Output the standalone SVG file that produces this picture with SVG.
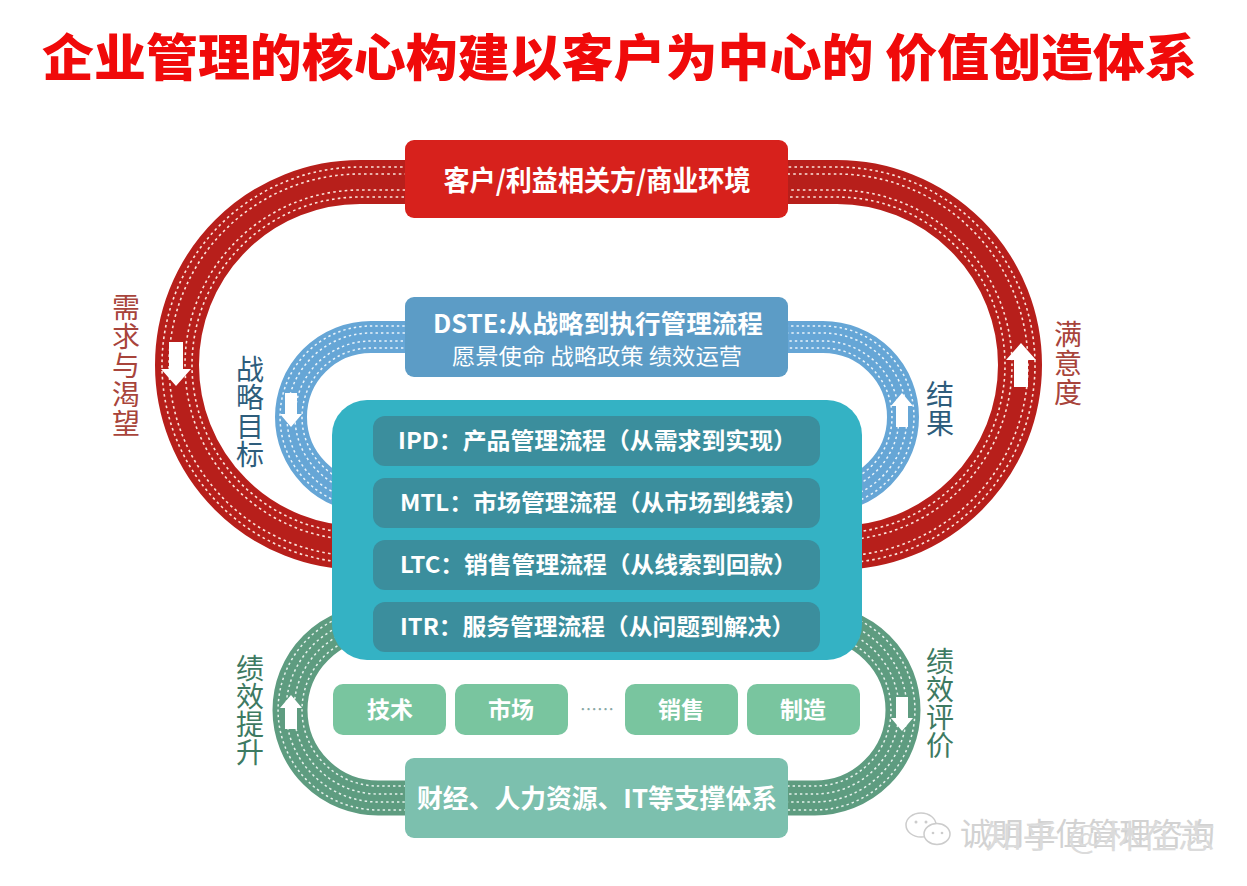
<svg xmlns="http://www.w3.org/2000/svg" xmlns:xlink="http://www.w3.org/1999/xlink" width="1247" height="886" viewBox="0 0 1247 886">
<style>
.cjk{font-family:"Noto Sans CJK SC","Noto Sans CJK TC",sans-serif}
.title{font-size:50px;font-weight:900;fill:#f00a0a}
.boxt{fill:#fff;font-weight:bold}
.lbl{font-size:28px;text-anchor:middle}
.dash{fill:none;stroke:#fbe3da;stroke-width:1.6;stroke-dasharray:2.6 3.2}
.dashb{fill:none;stroke:#eaf4fb;stroke-width:1.5;stroke-dasharray:2.4 3}
.dashg{fill:none;stroke:#e6f2ec;stroke-width:1.5;stroke-dasharray:2.4 3}
.arr{fill:#fff}
.row{fill:#3b8e9d}
.gbox{fill:#79c59f}
</style>
<defs>
<path id="arrR" d="M -7 0 H 7 V 27 H 15 L 0 44 L -15 27 H -7 Z"/>
<path id="arrS" d="M -6 0 H 6 V 21 H 11 L 0 34 L -11 21 H -6 Z"/>
</defs>
<rect width="1247" height="886" fill="#fff"/>

<text class="cjk title" x="42" y="76" textLength="1155" lengthAdjust="spacingAndGlyphs">企业管理的核心构建以客户为中心的 价值创造体系</text>

<g id="connectors">
  <!-- red loop -->
  <path d="M 400 548 H 360 A 183 183 0 0 1 360 182 H 837 A 183 183 0 0 1 837 548 H 800" fill="none" stroke="#b71f1b" stroke-width="44"/>
  <path class="dash" d="M 400 563 H 360 A 198 198 0 0 1 360 167 H 837 A 198 198 0 0 1 837 563 H 800"/>
  <path class="dash" d="M 400 556 H 360 A 191 191 0 0 1 360 174 H 837 A 191 191 0 0 1 837 556 H 800"/>
  <path class="dash" d="M 400 540 H 360 A 175 175 0 0 1 360 190 H 837 A 175 175 0 0 1 837 540 H 800"/>
  <path class="dash" d="M 400 533 H 360 A 168 168 0 0 1 360 197 H 837 A 168 168 0 0 1 837 533 H 800"/>
  <!-- blue loop -->
  <path d="M 400 497 H 371 A 80 80 0 0 1 371 337 H 823 A 80 80 0 0 1 823 497 H 800" fill="none" stroke="#66a6d6" stroke-width="32"/>
  <path class="dashb" d="M 400 508 H 371 A 91 91 0 0 1 371 326 H 823 A 91 91 0 0 1 823 508 H 800"/>
  <path class="dashb" d="M 400 501 H 371 A 84 84 0 0 1 371 333 H 823 A 84 84 0 0 1 823 501 H 800"/>
  <path class="dashb" d="M 400 493 H 371 A 76 76 0 0 1 371 341 H 823 A 76 76 0 0 1 823 493 H 800"/>
  <path class="dashb" d="M 400 486 H 371 A 69 69 0 0 1 371 348 H 823 A 69 69 0 0 1 823 486 H 800"/>
  <!-- green loop -->
  <path d="M 400 622 H 378 A 88 88 0 0 0 378 798 H 815 A 88 88 0 0 0 815 622 H 800" fill="none" stroke="#5e9c80" stroke-width="35"/>
  <path class="dashg" d="M 400 610 H 378 A 100 100 0 0 0 378 810 H 815 A 100 100 0 0 0 815 610 H 800"/>
  <path class="dashg" d="M 400 618 H 378 A 92 92 0 0 0 378 802 H 815 A 92 92 0 0 0 815 618 H 800"/>
  <path class="dashg" d="M 400 626 H 378 A 84 84 0 0 0 378 794 H 815 A 84 84 0 0 0 815 626 H 800"/>
  <path class="dashg" d="M 400 634 H 378 A 76 76 0 0 0 378 786 H 815 A 76 76 0 0 0 815 634 H 800"/>
  <!-- arrows -->
  <use href="#arrR" class="arr" transform="translate(176,342)"/>
  <use href="#arrR" class="arr" transform="translate(1021,387) scale(1,-1)"/>
  <use href="#arrS" class="arr" transform="translate(291,393)"/>
  <use href="#arrS" class="arr" transform="translate(902,427) scale(1,-1)"/>
  <use href="#arrS" class="arr" transform="translate(291,729) scale(1,-1)"/>
  <use href="#arrS" class="arr" transform="translate(902,697)"/>
</g>

<g id="node-customer">
  <rect x="405" y="140" width="383" height="78" rx="9" fill="#d7211c"/>
  <text class="cjk boxt" x="597" y="191" font-size="28" text-anchor="middle" textLength="307" lengthAdjust="spacingAndGlyphs">客户/利益相关方/商业环境</text>
</g>

<g id="node-dste">
  <rect x="405" y="297" width="383" height="80" rx="9" fill="#5c9cc6"/>
  <text class="cjk boxt" x="598" y="333" font-size="25" text-anchor="middle" textLength="330" lengthAdjust="spacingAndGlyphs">DSTE:从战略到执行管理流程</text>
  <text class="cjk" x="597" y="364" font-size="22" fill="#fff" text-anchor="middle" textLength="290" lengthAdjust="spacingAndGlyphs">愿景使命 战略政策 绩效运营</text>
</g>

<g id="node-core">
  <rect x="332" y="400" width="530" height="260" rx="35" fill="#34b2c4"/>
  <rect class="row" x="373" y="416" width="447" height="50" rx="12"/>
  <rect class="row" x="373" y="478" width="447" height="50" rx="12"/>
  <rect class="row" x="373" y="540" width="447" height="50" rx="12"/>
  <rect class="row" x="373" y="602" width="447" height="50" rx="12"/>
  <text class="cjk boxt" x="398" y="449" font-size="23" textLength="399" lengthAdjust="spacingAndGlyphs">IPD：产品管理流程（从需求到实现）</text>
  <text class="cjk boxt" x="400" y="511" font-size="23" textLength="408" lengthAdjust="spacingAndGlyphs">MTL：市场管理流程（从市场到线索）</text>
  <text class="cjk boxt" x="400" y="573" font-size="23" textLength="397" lengthAdjust="spacingAndGlyphs">LTC：销售管理流程（从线索到回款）</text>
  <text class="cjk boxt" x="400" y="635" font-size="23" textLength="395" lengthAdjust="spacingAndGlyphs">ITR：服务管理流程（从问题到解决）</text>
</g>

<g id="node-functions">
  <rect class="gbox" x="333" y="684" width="113" height="51" rx="10"/>
  <rect class="gbox" x="455" y="684" width="113" height="51" rx="10"/>
  <rect class="gbox" x="625" y="684" width="113" height="51" rx="10"/>
  <rect class="gbox" x="747" y="684" width="113" height="51" rx="10"/>
  <text class="cjk boxt" x="390" y="718" font-size="23" text-anchor="middle">技术</text>
  <text class="cjk boxt" x="511" y="718" font-size="23" text-anchor="middle">市场</text>
  <text class="cjk" x="597" y="716" font-size="17" fill="#8aa9a6" text-anchor="middle">……</text>
  <text class="cjk boxt" x="681" y="718" font-size="23" text-anchor="middle">销售</text>
  <text class="cjk boxt" x="803" y="718" font-size="23" text-anchor="middle">制造</text>
</g>

<g id="node-support">
  <rect x="405" y="758" width="383" height="80" rx="9" fill="#7cc0ae"/>
  <text class="cjk boxt" x="597" y="808" font-size="26" text-anchor="middle" textLength="360" lengthAdjust="spacingAndGlyphs">财经、人力资源、IT等支撑体系</text>
</g>

<g id="labels">
  <text class="cjk lbl" fill="#a8443b"><tspan x="126" y="318">需</tspan><tspan x="126" y="347">求</tspan><tspan x="126" y="376">与</tspan><tspan x="126" y="405">渴</tspan><tspan x="126" y="434">望</tspan></text>
  <text class="cjk lbl" fill="#a8443b"><tspan x="1068" y="345">满</tspan><tspan x="1068" y="374">意</tspan><tspan x="1068" y="403">度</tspan></text>
  <text class="cjk lbl" fill="#2e5d7c" font-size="27"><tspan x="250" y="380">战</tspan><tspan x="250" y="408">略</tspan><tspan x="250" y="437">目</tspan><tspan x="250" y="465">标</tspan></text>
  <text class="cjk lbl" fill="#2e5d7c" font-size="27"><tspan x="940" y="405">结</tspan><tspan x="940" y="434">果</tspan></text>
  <text class="cjk lbl" fill="#3d7a62" font-size="27"><tspan x="250" y="679">绩</tspan><tspan x="250" y="707">效</tspan><tspan x="250" y="735">提</tspan><tspan x="250" y="763">升</tspan></text>
  <text class="cjk lbl" fill="#3d7a62" font-size="27"><tspan x="940" y="672">绩</tspan><tspan x="940" y="700">效</tspan><tspan x="940" y="728">评</tspan><tspan x="940" y="756">价</tspan></text>
</g>

<g id="watermark" opacity="0.75">
  <ellipse cx="921" cy="825" rx="15" ry="12" fill="#fff" stroke="#bbb" stroke-width="1.5"/>
  <ellipse cx="937" cy="834" rx="13" ry="10.5" fill="#fff" stroke="#bbb" stroke-width="1.5"/>
  <circle cx="916" cy="822" r="1.5" fill="#bbb"/><circle cx="926" cy="822" r="1.5" fill="#bbb"/>
  <circle cx="933" cy="833" r="1.3" fill="#bbb"/><circle cx="942" cy="833" r="1.3" fill="#bbb"/>
  <text class="cjk" x="960" y="845" font-size="31" fill="#c4c4c4" textLength="255" lengthAdjust="spacingAndGlyphs">诚明卓值管理咨询</text>
  <text class="cjk" x="985" y="848" font-size="32" fill="#d0d0d0" textLength="230" lengthAdjust="spacingAndGlyphs">知乎 @林在志</text>
</g>
</svg>
